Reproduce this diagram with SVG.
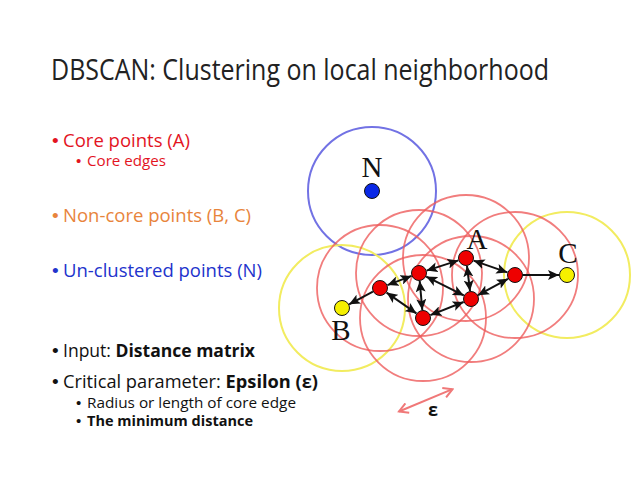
<svg xmlns="http://www.w3.org/2000/svg" width="638" height="478" viewBox="0 0 638 478">
<style>
.t{font-family:"Open Sans","Liberation Sans",sans-serif;}
.lbl{font-family:"Liberation Serif","DejaVu Serif",serif;font-size:29px;fill:#111;text-anchor:middle;}
.rc{fill:none;stroke:#ee5c5c;stroke-opacity:0.8;stroke-width:1.8;}
.yc{fill:none;stroke:#f2ec60;stroke-width:2;}
.bc{fill:none;stroke:#7272e4;stroke-width:2;}
.rp{fill:#ee0000;stroke:#111;stroke-width:1;}
.yp{fill:#f5f000;stroke:#111;stroke-width:1;}
.bp{fill:#0a28e6;stroke:#111;stroke-width:1;}
.e{stroke:#111;stroke-width:2;fill:none;}
.b{font-weight:bold;}
.bu{font-family:"Liberation Sans",sans-serif;font-size:19px;}
.bs{font-family:"Liberation Sans",sans-serif;font-size:15px;}
</style>
<defs>
<marker id="ah" markerUnits="userSpaceOnUse" markerWidth="12" markerHeight="10" refX="11" refY="5" orient="auto-start-reverse">
<path d="M0,0 L11,5 L0,10 L2.5,5 z" fill="#111"/>
</marker>
<marker id="eh" markerUnits="userSpaceOnUse" markerWidth="12" markerHeight="12" refX="10" refY="6" orient="auto-start-reverse">
<path d="M1,1 L10,6 L1,11" fill="none" stroke="#f07878" stroke-width="2"/>
</marker>
</defs>
<rect width="638" height="478" fill="#fff"/>

<text class="t" x="51" y="80" font-size="29" fill="#222" textLength="498" lengthAdjust="spacingAndGlyphs">DBSCAN: Clustering on local neighborhood</text>

<g id="bullets" class="t">
<text class="bu" x="52" y="147" fill="#e3141f">•</text>
<text x="63" y="147" font-size="18" fill="#e3141f" textLength="127" lengthAdjust="spacingAndGlyphs">Core points (A)</text>
<text class="bs" x="76" y="166" fill="#e3141f">•</text>
<text x="87" y="166" font-size="14.5" fill="#e3141f" textLength="79" lengthAdjust="spacingAndGlyphs">Core edges</text>
<text class="bu" x="52" y="222" fill="#e8843c">•</text>
<text x="63" y="222" font-size="18" fill="#e8843c" textLength="188" lengthAdjust="spacingAndGlyphs">Non-core points (B, C)</text>
<text class="bu" x="52" y="277" fill="#2233cc">•</text>
<text x="63" y="277" font-size="18" fill="#2233cc" textLength="199" lengthAdjust="spacingAndGlyphs">Un-clustered points (N)</text>
<text class="bu" x="52" y="357" fill="#111">•</text>
<text x="63" y="357" font-size="18" fill="#111" textLength="192" lengthAdjust="spacingAndGlyphs">Input: <tspan class="b">Distance matrix</tspan></text>
<text class="bu" x="52" y="388" fill="#111">•</text>
<text x="63" y="388" font-size="18" fill="#111" textLength="255" lengthAdjust="spacingAndGlyphs">Critical parameter: <tspan class="b">Epsilon (ε)</tspan></text>
<text class="bs" x="76" y="408" fill="#111">•</text>
<text x="87" y="408" font-size="14.5" fill="#111" textLength="209" lengthAdjust="spacingAndGlyphs">Radius or length of core edge</text>
<text class="bs" x="76" y="426" fill="#111">•</text>
<text x="87" y="426" font-size="14.5" fill="#111" class="b" textLength="166" lengthAdjust="spacingAndGlyphs">The minimum distance</text>
</g>

<g id="neighborhoods">
<circle class="bc" cx="372" cy="191" r="64"/>
<circle class="yc" cx="342" cy="308" r="63"/>
<circle class="yc" cx="567" cy="275" r="63"/>
<circle class="rc" cx="380" cy="288" r="63"/>
<circle class="rc" cx="419" cy="273" r="63"/>
<circle class="rc" cx="466" cy="258" r="63"/>
<circle class="rc" cx="423" cy="318" r="63"/>
<circle class="rc" cx="471" cy="299" r="63"/>
<circle class="rc" cx="515" cy="275" r="63"/>
</g>

<g id="connectors">
<line class="e" x1="372.9" y1="291.7" x2="349.1" y2="304.3" marker-end="url(#ah)"/>
<line class="e" x1="387.5" y1="285.1" x2="411.5" y2="275.9" marker-start="url(#ah)" marker-end="url(#ah)"/>
<line class="e" x1="386.6" y1="292.6" x2="416.4" y2="313.4" marker-start="url(#ah)" marker-end="url(#ah)"/>
<line class="e" x1="426.6" y1="270.6" x2="458.4" y2="260.4" marker-start="url(#ah)" marker-end="url(#ah)"/>
<line class="e" x1="419.7" y1="281" x2="422.3" y2="310" marker-start="url(#ah)" marker-end="url(#ah)"/>
<line class="e" x1="426.2" y1="276.6" x2="463.8" y2="295.4" marker-start="url(#ah)" marker-end="url(#ah)"/>
<line class="e" x1="467" y1="265.9" x2="470" y2="291.1" marker-start="url(#ah)" marker-end="url(#ah)"/>
<line class="e" x1="473.6" y1="260.6" x2="507.4" y2="272.4" marker-start="url(#ah)" marker-end="url(#ah)"/>
<line class="e" x1="478" y1="295.2" x2="508" y2="278.8" marker-start="url(#ah)" marker-end="url(#ah)"/>
<line class="e" x1="430.4" y1="315.1" x2="463.6" y2="302" marker-start="url(#ah)" marker-end="url(#ah)"/>
<line class="e" x1="523" y1="275" x2="559" y2="275" marker-end="url(#ah)"/>
</g>

<g id="node-N"><circle class="bp" cx="372" cy="191" r="7.5"/><text class="lbl" x="372" y="177">N</text></g>
<g id="node-B"><circle class="yp" cx="342" cy="308" r="7.5"/><text class="lbl" x="341" y="340">B</text></g>
<g id="node-C"><circle class="yp" cx="567" cy="275" r="7.5"/><text class="lbl" x="568" y="263">C</text></g>
<g id="node-P1"><circle class="rp" cx="380" cy="288" r="7.5"/></g>
<g id="node-P2"><circle class="rp" cx="419" cy="273" r="7.5"/></g>
<g id="node-A"><circle class="rp" cx="466" cy="258" r="7.5"/><text class="lbl" x="477" y="249">A</text></g>
<g id="node-P4"><circle class="rp" cx="423" cy="318" r="7.5"/></g>
<g id="node-P5"><circle class="rp" cx="471" cy="299" r="7.5"/></g>
<g id="node-P6"><circle class="rp" cx="515" cy="275" r="7.5"/></g>

<g id="epsilon">
<line x1="399" y1="411.5" x2="452.5" y2="389.2" stroke="#f07878" stroke-width="2" marker-start="url(#eh)" marker-end="url(#eh)"/>
<text class="t b" x="433" y="416" font-size="18" fill="#111" text-anchor="middle">ε</text>
</g>
</svg>
